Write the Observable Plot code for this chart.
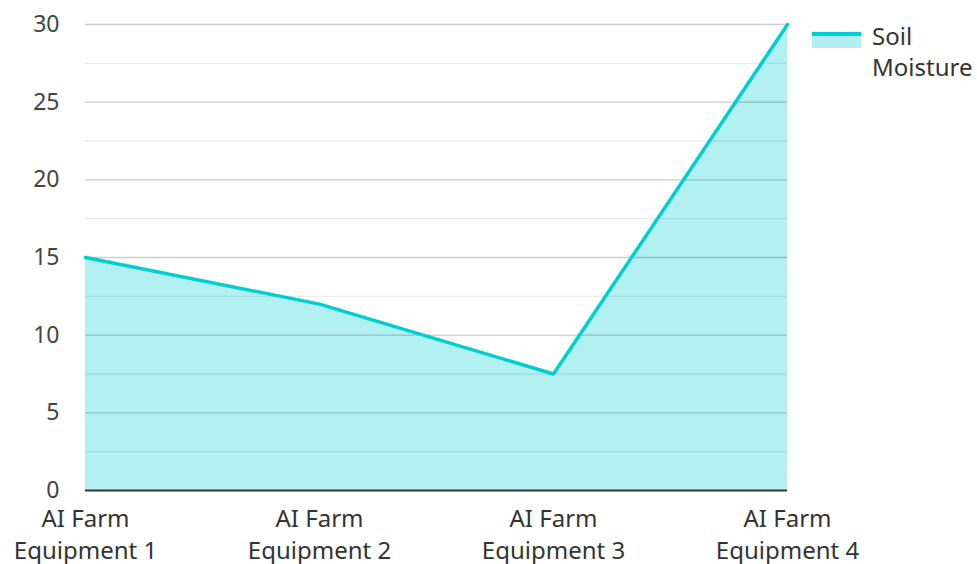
<!DOCTYPE html>
<html>
<head>
<meta charset="utf-8">
<script src="https://cdn.jsdelivr.net/npm/d3@7"></script>
<script src="https://cdn.jsdelivr.net/npm/@observablehq/plot@0.6"></script>
<style>
  html, body { margin: 0; padding: 0; background: #fff; }
  #wrap { position: relative; width: 977px; height: 564px; font-family: "Noto Sans", sans-serif; }
  #legend { position: absolute; left: 812px; top: 20px; display: flex; align-items: flex-start; }
  #legend .sw { position: relative; width: 49px; height: 30px; margin-top: 12px; }
  #legend .sw .fill { position: absolute; left: 0; top: 2px; width: 49px; height: 14px; background: #b2efef; }
  #legend .sw .ln { position: absolute; left: 0; top: 0; width: 49px; height: 4px; background: #00ced1; }
  #legend .tx { margin-left: 11px; font-size: 24px; line-height: 31px; color: #333; width: 110px; }
</style>
</head>
<body>
<div id="wrap">
  <div id="chart"></div>
  <div id="legend"><div class="sw"><div class="fill"></div><div class="ln"></div></div><div class="tx">Soil Moisture</div></div>
</div>
<script>
const categories = ["AI Farm Equipment 1", "AI Farm Equipment 2", "AI Farm Equipment 3", "AI Farm Equipment 4"];
const soilMoisture = [15, 12, 7.5, 30];
const yTicks = [0, 5, 10, 15, 20, 25, 30];
const yMinorTicks = [2.5, 7.5, 12.5, 17.5, 22.5, 27.5];

const data = categories.map((c, i) => ({ category: c, value: soilMoisture[i] }));

const chart = Plot.plot({
  width: 977,
  height: 564,
  marginLeft: 85,
  marginRight: 190,
  marginTop: 24,
  marginBottom: 74,
  style: { fontFamily: "Noto Sans, sans-serif", fontSize: "23px", color: "#444", background: "#fff", overflow: "visible" },
  x: { type: "point", domain: categories, padding: 0 },
  y: { domain: [0, 30] },
  marks: [
    Plot.areaY(data, { x: "category", y: "value", fill: "#00ced1", fillOpacity: 0.3 }),
    Plot.ruleY(yMinorTicks, { stroke: "#000", strokeOpacity: 0.08, strokeWidth: 1.3 }),
    Plot.ruleY(yTicks.filter(d => d !== 0), { stroke: "#000", strokeOpacity: 0.2, strokeWidth: 1.3 }),
    Plot.lineY(data, { x: "category", y: "value", stroke: "#00ced1", strokeWidth: 3.5 }),
    Plot.ruleY([0], { stroke: "#333", strokeWidth: 2 }),
    Plot.axisY({ ticks: yTicks, tickSize: 0, tickPadding: 26, fill: "#444", fontSize: 23, label: null }),
    Plot.axisX({ tickSize: 0, tickPadding: 14, fill: "#333", fontSize: 24, lineHeight: 1.33, label: null,
      tickFormat: d => d.replace(" Equipment", "\nEquipment") })
  ]
});
document.getElementById("chart").appendChild(chart);
</script>
</body>
</html>
